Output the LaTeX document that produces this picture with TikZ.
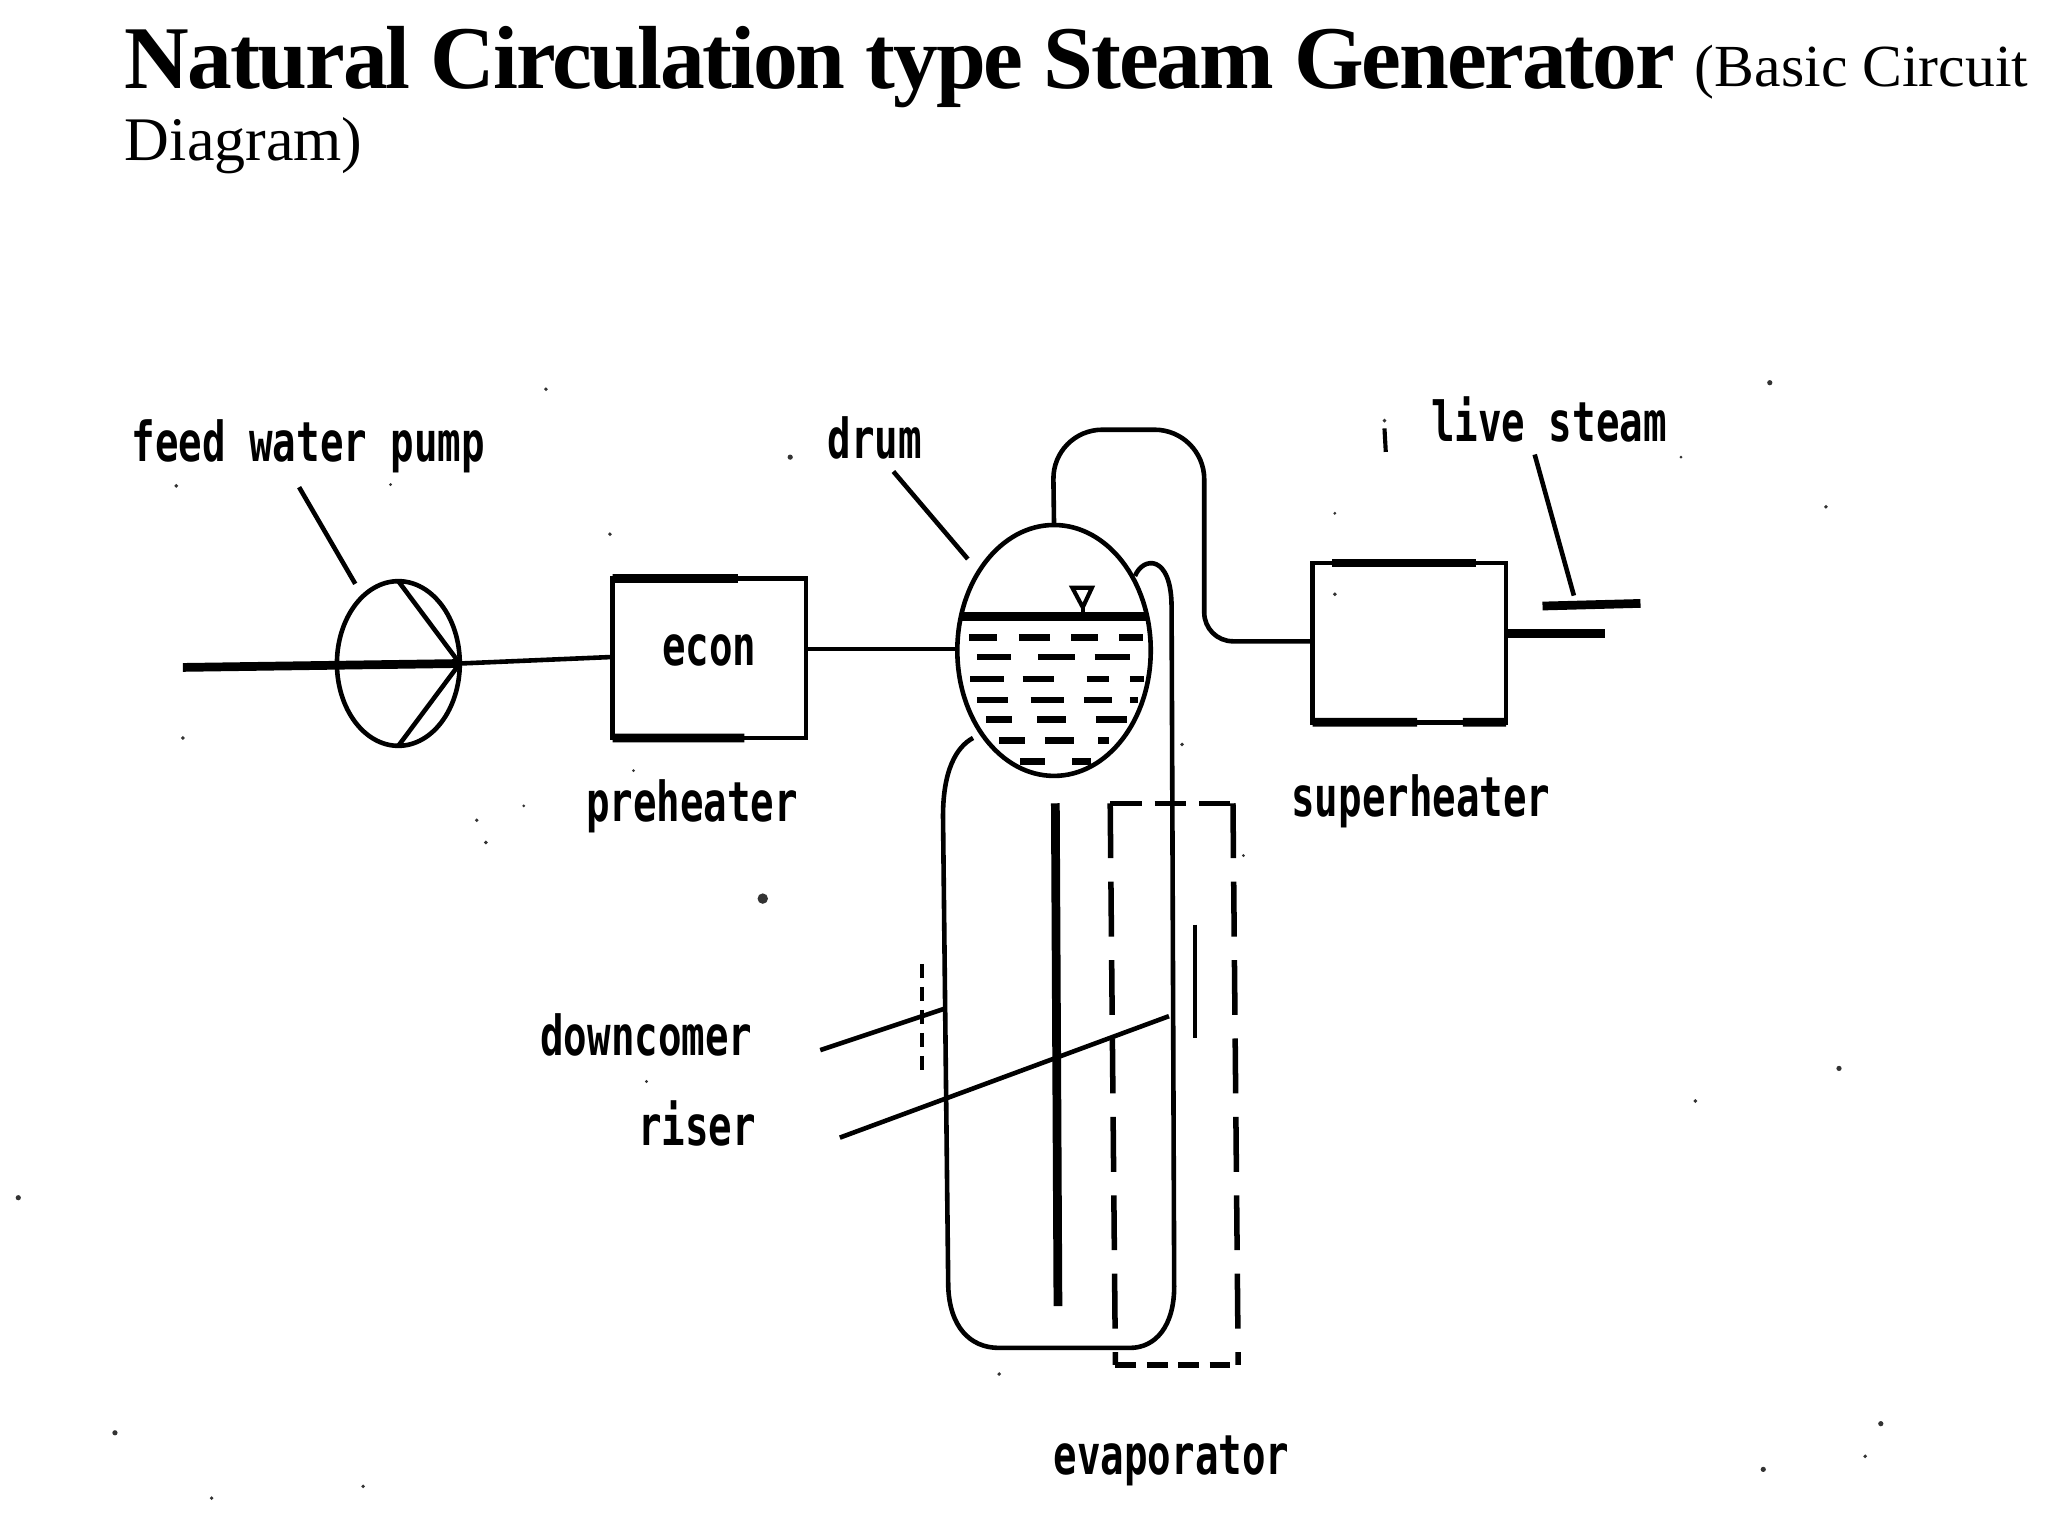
\documentclass[tikz,border=0pt]{standalone}
\usepackage{fontspec}
\usetikzlibrary{shapes.geometric}
\setmainfont{Liberation Serif}
\newfontfamily\titlefont[LetterSpace=-2.4]{Liberation Serif}
\newfontfamily\labelfont[FakeStretch=0.71]{DejaVu Sans Mono}
\tikzset{
    pipe/.style={line width=1pt},
    heavy/.style={line width=1.9pt},
    leader/.style={line width=1pt},
    unitbox/.style={draw, line width=1pt, outer sep=0pt, minimum width=1.48cm, minimum height=1.22cm, inner sep=0pt, font=\labelfont\fontsize{12}{12}\selectfont\bfseries},
    plant/.style={draw, line width=1pt, ellipse, outer sep=0pt, inner sep=0pt},
    tag/.style={anchor=base west, inner sep=0pt, font=\labelfont\fontsize{12}{12}\selectfont\bfseries},
    speck/.style={fill=black!80, draw=none}
}
\begin{document}
\begin{tikzpicture}[x=0.01cm, y=-0.01cm]
    \useasboundingbox (0,0) rectangle (1568,1176);
    \fill[white] (0,0) rectangle (1568,1176);

    % Heading
    \node[anchor=base west, inner sep=0pt] (heading) at (95,68) {\titlefont\fontsize{19.5}{20}\selectfont\bfseries Natural Circulation type Steam Generator};
    \node[anchor=base west, inner sep=0pt] (headingtail) at (1297,66) {\fontsize{13}{14}\selectfont (Basic Circuit};
    \node[anchor=base west, inner sep=0pt] (headingnext) at (95,123) {\fontsize{13.5}{14}\selectfont Diagram)};

    % Pump, preheater, drum, superheater
    \node[plant, minimum width=0.94cm, minimum height=1.26cm] (pump) at (305,508) {};
    \node[unitbox] (econ) at (543,504) {\raisebox{0.13cm}{econ}};
    \node[plant, minimum width=1.48cm, minimum height=1.92cm] (drum) at (807,498) {};
    \node[unitbox] (super) at (1079,492) {};

    % Free ends of the pipes
    \coordinate (feedin) at (140,511);
    \coordinate (steamout) at (1229,485);
    \coordinate (drumin) at (733,497);
    \coordinate (topin) at (1003,491);
    \coordinate (tubestart) at (869,441);
    \coordinate (tubeend) at (745,565);

    % Feed line
    \draw[heavy] (feedin) -- (pump.east);
    \draw[pipe] (pump.east) -- (econ.west |- 0,503);
    \draw[pipe] (econ.east |- drumin) -- (drumin);

    % Pump vanes
    \draw[pipe] (pump.north) -- (pump.east) -- (pump.south);

    % Steam pipe over the drum
    \draw[pipe, rounded corners=0.38cm] (drum.north) -- (806,329) -- (922,329) [rounded corners=0.22cm] -- (922,491) -- (super.west |- topin);

    % Steam out
    \draw[heavy] (super.east |- steamout) -- (steamout);
    \draw[heavy] (1181,464) -- (1256,462);

    % Tube loop
    \draw[pipe] (tubestart) .. controls (875,426) and (897,424) .. (897,465) -- (899,985) .. controls (899,1015) and (885,1032) .. (865,1032) -- (765,1032) .. controls (742,1032) and (727,1015) .. (726,985) -- (722,625) .. controls (722,590) and (732,572) .. (tubeend);
    \draw[heavy] (808,615) -- (810,1000);

    % Evaporator frame
    \draw[line width=1.2pt, dash pattern=on 0.42cm off 0.18cm] (850,615) -- (854,1045);
    \draw[line width=1.2pt, dash pattern=on 0.42cm off 0.18cm] (944,615) -- (948,1045);
    \draw[line width=1.2pt, dash pattern=on 0.24cm off 0.1cm] (850,615) -- (944,615);
    \draw[line width=1.2pt, dash pattern=on 0.16cm off 0.08cm] (854,1045) -- (948,1045);
    \draw[pipe] (915,708) -- (915,795);
    \draw[line width=0.8pt, densely dashed] (706,738) -- (706,822);

    % Water in drum
    \draw[heavy] (drum.west |- 0,472) ++(3,0) -- (878,472);
    \foreach \yy/\xa/\xb in {488/742/763, 488/780/804, 488/820/841, 488/857/875,
                             503/748/774, 503/795/823, 503/838/865,
                             520/743/769, 520/783/807, 520/832/849, 520/865/876,
                             536/748/772, 536/789/815, 536/830/851, 536/865/871,
                             551/755/775, 551/794/816, 551/839/863,
                             567/765/785, 567/800/822, 567/841/849,
                             583/781/800, 583/821/835}
        \draw[line width=1.4pt] (\xa,\yy) -- (\xb,\yy);

    % Level mark
    \draw[line width=0.9pt] (821,450) -- (836,450) -- (829,465) -- cycle;
    \draw[line width=0.9pt] (829,465) -- (829,472);

    % Thick parts of the boxes
    \draw[heavy] (econ.north west) -- (565,443);
    \draw[heavy] (econ.south west) -- (570,565);
    \draw[heavy] (1020,431) -- (1130,431);
    \draw[heavy] (super.south west) -- (1085,553);
    \draw[heavy] (1120,553) -- (super.south east);

    % Labels
    \node[tag] (pumplabel) at (100,353) {feed water pump};
    \node[tag] (drumlabel) at (633,351) {drum};
    \node[tag] (steamlabel) at (1095,338) {live steam};
    \node[tag] (prelabel) at (448,629) {preheater};
    \node[tag] (superlabel) at (988,625) {superheater};
    \node[tag] (downlabel) at (413,808) {downcomer};
    \node[tag] (riserlabel) at (488,877) {riser};
    \node[tag] (evaplabel) at (806,1129) {evaporator};

    % Leaders
    \coordinate (pumptip) at (229,373);
    \coordinate (drumtip) at (684,361);
    \coordinate (steamtip) at (1175,348);
    \coordinate (downtip) at (628,804);
    \coordinate (risertip) at (643,871);
    \draw[leader] (pumptip) -- (272,447);
    \draw[leader] (drumtip) -- (741,428);
    \draw[leader] (steamtip) -- (1205,456);
    \draw[leader] (downtip) -- (724,772);
    \draw[leader] (risertip) -- (895,778);

    % Specks of the scan
    \foreach \xx/\yy/\rr in {418/298/1.5, 135/372/1.5, 299/371/1.2, 467/409/1.5, 605/350/2,
                             140/565/1.5, 401/617/1.2, 365/628/1.5, 372/645/1.5, 584/688/4,
                             1022/455/1.5, 1022/393/1.2, 1355/293/2, 1398/388/1.5, 1287/350/1.2,
                             905/570/1.5, 952/655/1.2, 1408/818/2, 1298/843/1.5, 14/917/2,
                             88/1097/2, 162/1147/1.5, 278/1138/1.5, 765/1052/1.5, 1350/1125/2,
                             1428/1115/1.5, 1440/1090/2, 495/828/1.2, 485/590/1.2, 1060/322/1.5}
        \fill[speck] (\xx,\yy) ellipse [x radius=\rr, y radius=\rr];
    \draw[line width=0.9pt] (1060,328) -- (1061,346);
\end{tikzpicture}
\end{document}
